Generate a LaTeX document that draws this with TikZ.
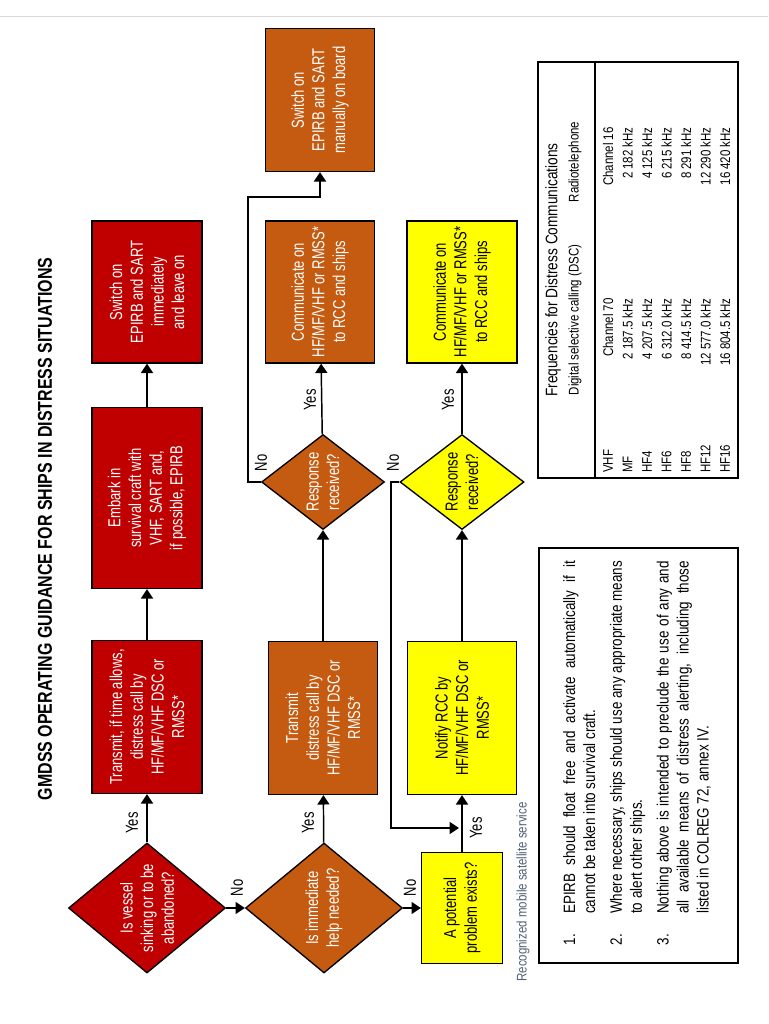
\documentclass[tikz,border=0pt]{standalone}
\usepackage{fontspec}
\setmainfont{Liberation Sans}
\newfontfamily\narrowf{Liberation Sans}[FakeStretch=0.82]
\newfontfamily\narrowg{Liberation Sans}[FakeStretch=0.75]
\usetikzlibrary{shapes.geometric,arrows.meta}
\definecolor{cred}{HTML}{C00000}
\definecolor{corange}{HTML}{C55A11}
\definecolor{cyellow}{HTML}{FFFF00}
\definecolor{cfoot}{HTML}{4F6177}
\begin{document}
\begin{tikzpicture}[x=0.75pt,y=-0.75pt,
  every node/.style={rotate=90},
  box/.style={draw=black,line width=1pt,align=center,inner sep=0pt,font=\narrowg\fontsize{13}{15.5}\selectfont},
  dia/.style={draw=black,line width=1pt,diamond,inner sep=0pt,minimum width=#1},
  dtxt/.style={align=center,inner sep=0pt,font=\narrowg\fontsize{13}{15.5}\selectfont},
  lab/.style={inner sep=0pt,font=\narrowg\fontsize{13}{13}\selectfont},
  arr/.style={line width=1.1pt,-{Triangle[width=9pt,length=7pt]}},
  tb/.style={inner sep=0pt,font=\narrowf\fontsize{10.5}{11}\selectfont}]
\useasboundingbox (0,0) rectangle (768,1024);
\fill[white] (0,0) rectangle (768,1024);
\draw[gray!30,line width=0.6pt] (0,16) -- (768,16);
% title
\node[inner sep=0pt] (title) at (45,529) {\scalebox{0.8}[1]{\fontsize{15}{18}\selectfont\bfseries GMDSS OPERATING GUIDANCE FOR SHIPS IN DISTRESS SITUATIONS}};
% row 1 red
\node[dia,fill=cred,minimum width=97.5pt,minimum height=117.75pt,aspect=0.83] (d1) at (147,908) {};
\node[dtxt,text=white] (d1t) at (147,908) {Is vessel\\sinking or to be\\abandoned?};
\node[box,fill=cred,text=white,minimum width=114.75pt,minimum height=82.5pt] (r1) at (147,717) {Transmit, if time allows,\\distress call by\\HF/MF/VHF DSC or\\RMSS*};
\node[box,fill=cred,text=white,minimum width=135.75pt,minimum height=82.5pt] (r2) at (147,498) {Embark in\\survival craft with\\VHF, SART and,\\if possible, EPIRB};
\node[box,fill=cred,text=white,minimum width=106.5pt,minimum height=82.5pt] (r3) at (147,292) {Switch on\\EPIRB and SART\\immediately\\and leave on};
% row 2 orange
\node[dia,fill=corange,minimum width=97.5pt,minimum height=117.75pt,aspect=0.83] (d2) at (324,908) {};
\node[dtxt,text=white] (d2t) at (324,908) {Is immediate\\help needed?};
\node[box,fill=corange,text=white,minimum width=114.75pt,minimum height=81.75pt] (o1) at (323,718) {Transmit\\distress call by\\HF/MF/VHF DSC or\\RMSS*};
\node[dia,fill=corange,minimum width=71.25pt,minimum height=92.25pt,aspect=0.77] (o2) at (323,482) {};
\node[dtxt,text=white] (o2t) at (323,482) {Response\\received?};
\node[box,fill=corange,text=white,minimum width=106.5pt,minimum height=81.75pt] (o3) at (320,292) {Communicate on\\HF/MF/VHF or RMSS*\\to RCC and ships};
\node[box,fill=corange,text=white,minimum width=107.25pt,minimum height=81.75pt] (o4) at (320,100) {Switch on\\EPIRB and SART\\manually on board};
% row 3 yellow
\node[box,fill=cyellow,minimum width=83.25pt,minimum height=60.75pt] (y1) at (462,908) {A potential\\problem exists?};
\node[box,fill=cyellow,minimum width=114.75pt,minimum height=81.75pt] (y2) at (462,718) {Notify RCC by\\HF/MF/VHF DSC or\\RMSS*};
\node[dia,fill=cyellow,minimum width=71.25pt,minimum height=93pt,aspect=0.77] (y3) at (462,482) {};
\node[dtxt] (y3t) at (462,482) {Response\\received?};
\node[box,fill=cyellow,minimum width=106.5pt,minimum height=82.5pt] (y4) at (462,292) {Communicate on\\HF/MF/VHF or RMSS*\\to RCC and ships};
% connectors
\draw[arr] (d1) -- (r1);
\draw[arr] (r1) -- (r2);
\draw[arr] (r2) -- (r3);
\draw[arr] (d1) -- (d2);
\draw[arr] (d2) -- (o1);
\draw[arr] (o1) -- (o2);
\draw[arr] (o2) -- (o3);
\draw[arr] (d2) -- (y1);
\draw[arr] (y1) -- (y2);
\draw[arr] (y2) -- (y3);
\draw[arr] (y3) -- (y4);
\coordinate (c1) at (248,197);
\draw[arr] (o2.north) -| (c1) -| (o4);
\coordinate (c2) at (391,828);
\coordinate (c3) at (459,828);
\draw[arr] (y3.north) -| (c2) -- (c3);
% labels
\node[lab] (l1) at (132,823) {Yes};
\node[lab] (l2) at (237,888) {No};
\node[lab] (l3) at (308,823) {Yes};
\node[lab] (l4) at (410,888) {No};
\node[lab] (l5) at (476,828) {Yes};
\node[lab] (l6) at (310,400) {Yes};
\node[lab] (l7) at (448,400) {Yes};
\node[lab] (l8) at (261,463) {No};
\node[lab] (l9) at (393,463) {No};
% footnote
\node[inner sep=0pt,text=cfoot,font=\narrowf\fontsize{10.5}{11}\selectfont] (foot) at (523,892) {Recognized mobile satellite service};
% notes box
\draw[line width=1pt] (539,548) rectangle (738,963);
\node[inner sep=0pt,text width=288pt,align=justify,font=\narrowf\fontsize{12.3}{15}\selectfont] (notes) at (637,753) {\hyphenpenalty=10000\exhyphenpenalty=10000%
\hangindent=1.9em\hangafter=1\noindent\makebox[1.9em][l]{1.}EPIRB should float free and activate automatically if it\linebreak cannot be taken into survival craft.\par\vspace{5pt}
\hangindent=1.9em\hangafter=1\noindent\makebox[1.9em][l]{2.}Where necessary, ships should use any appropriate means\linebreak to alert other ships.\par\vspace{5pt}
\hangindent=1.9em\hangafter=1\noindent\makebox[1.9em][l]{3.}Nothing above is intended to preclude the use of any and\linebreak all available means of distress alerting, including those\linebreak listed in COLREG 72, annex IV.\par};
% frequency table
\draw[line width=1pt] (538,62) rectangle (738,478);
\draw[line width=1pt] (595,62) -- (595,478);
\node[tb,font=\narrowf\fontsize{12.5}{13}\selectfont] (th) at (553,270) {Frequencies for Distress Communications};
\node[tb] (h1) at (575,320) {Digital selective calling (DSC)};
\node[tb] (h2) at (575,162) {Radiotelephone};
\foreach \b/\d/\r [count=\i from 0] in {VHF/Channel 70/Channel 16, MF/2 187.5 kHz/2 182 kHz, HF4/4 207.5 kHz/4 125 kHz, HF6/6 312.0 kHz/6 215 kHz, HF8/8 414.5 kHz/8 291 kHz, HF12/12 577.0 kHz/12 290 kHz, HF16/16 804.5 kHz/16 420 kHz}{
  \node[tb,anchor=west] (b\i) at (608+19.5*\i,473) {\b};
  \node[tb,anchor=east] (v\i) at (608+19.5*\i,298) {\d};
  \node[tb,anchor=east] (w\i) at (608+19.5*\i,127) {\r};
}
\end{tikzpicture}
\end{document}
